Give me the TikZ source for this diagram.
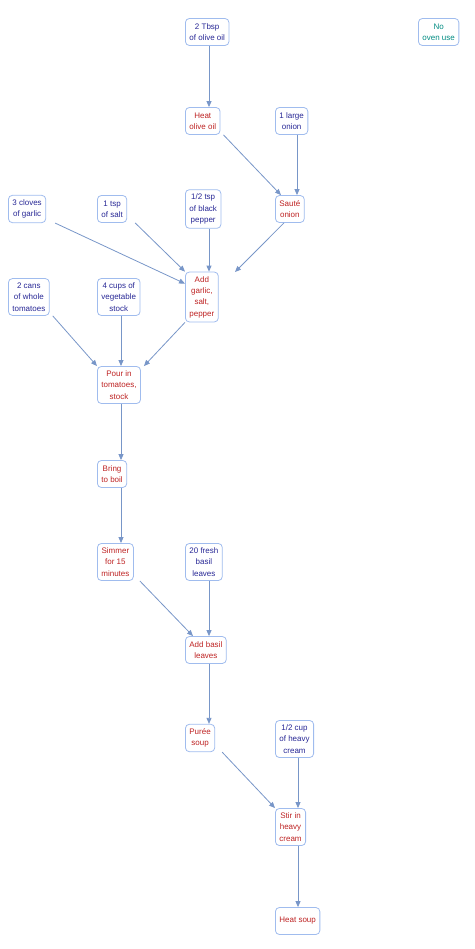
\documentclass[tikz,border=0pt]{standalone}
\usepackage{fontspec}
\setmainfont{Liberation Sans}
\usepackage{tikz}
\usetikzlibrary{arrows.meta}
\definecolor{myblue}{RGB}{40,40,150}
\definecolor{myred}{RGB}{190,35,35}
\definecolor{myteal}{RGB}{0,140,130}
\definecolor{myedge}{RGB}{120,150,200}
\definecolor{mybox}{RGB}{160,188,238}
\tikzset{
  basebox/.style={rectangle, draw=mybox, fill=white, align=center,
    anchor=west, inner xsep=4pt, inner ysep=4.3pt, minimum height=27pt,
    font=\fontsize{8}{11.3}\selectfont, rounded corners=4pt, line width=0.8pt},
  ingr/.style={basebox, text=myblue},
  stepbox/.style={basebox, text=myred},
  notebox/.style={basebox, text=myteal},
  arrow/.style={-{Triangle[length=6pt,width=5pt]}, line width=0.8pt, color=myedge}
}

\begin{document}
\begin{tikzpicture}[x=1pt, y=-1pt]
  \useasboundingbox (0,0) rectangle (474,949);

  % Ingredients and steps
  \node[ingr] (oil) at (185,32) {2 Tbsp\\of olive oil};
  \node[notebox] (nooven) at (418,32) {No\\oven use};
  \node[stepbox] (heat) at (185,121) {Heat\\olive oil};
  \node[ingr] (onion) at (275,121) {1 large\\onion};
  \node[ingr] (garlic) at (8,209) {3 cloves\\of garlic};
  \node[ingr] (salt) at (97,209) {1 tsp\\of salt};
  \node[ingr] (pepper) at (185,209) {1/2 tsp\\of black\\pepper};
  \node[stepbox] (saute) at (275,209) {Sauté\\onion};
  \node[stepbox] (addgsp) at (185,297) {Add\\garlic,\\salt,\\pepper};
  \node[ingr] (cans) at (8,297) {2 cans\\of whole\\tomatoes};
  \node[ingr] (stock) at (97,297) {4 cups of\\vegetable\\stock};
  \node[stepbox] (pour) at (97,385) {Pour in\\tomatoes,\\stock};
  \node[stepbox] (boil) at (97,474) {Bring\\to boil};
  \node[stepbox] (simmer) at (97,562) {Simmer\\for 15\\minutes};
  \node[ingr] (basil) at (185,562) {20 fresh\\basil\\leaves};
  \node[stepbox] (addbasil) at (185,650) {Add basil\\leaves};
  \node[stepbox] (puree) at (185,738) {Purée\\soup};
  \node[ingr] (cream) at (275,739) {1/2 cup\\of heavy\\cream};
  \node[stepbox] (stir) at (275,827) {Stir in\\heavy\\cream};
  \node[stepbox] (heatsoup) at (275,921) {Heat soup};
  \coordinate (sautetip) at (235,272);

  % Connectors
  \draw[arrow] ([xshift=24pt]oil.south west) -- ([xshift=24pt]heat.north west);
  \draw[arrow] ([xshift=3pt]heat.south east) -- ([xshift=6pt]saute.north west);
  \draw[arrow] ([xshift=22pt]onion.south west) -- ([xshift=22pt]saute.north west);
  \draw[arrow] ([xshift=9pt]garlic.south east) -- ([yshift=-12pt]addgsp.north west);
  \draw[arrow] ([xshift=8pt]salt.south east) -- (addgsp.north west);
  \draw[arrow] ([xshift=24pt]pepper.south west) -- ([xshift=24pt]addgsp.north west);
  \draw[arrow] ([xshift=9pt]saute.south west) -- (sautetip);
  \draw[arrow] ([xshift=3pt]cans.south east) -- (pour.north west);
  \draw[arrow] ([xshift=24pt]stock.south west) -- ([xshift=24pt]pour.north west);
  \draw[arrow] (addgsp.south west) -- ([xshift=3pt]pour.north east);
  \draw[arrow] ([xshift=24pt]pour.south west) -- ([xshift=24pt]boil.north west);
  \draw[arrow] ([xshift=24pt]boil.south west) -- ([xshift=24pt]simmer.north west);
  \draw[arrow] ([xshift=6pt]simmer.south east) -- ([xshift=8pt]addbasil.north west);
  \draw[arrow] ([xshift=24pt]basil.south west) -- ([xshift=24pt]addbasil.north west);
  \draw[arrow] ([xshift=24pt]addbasil.south west) -- ([xshift=24pt]puree.north west);
  \draw[arrow] ([xshift=7pt]puree.south east) -- (stir.north west);
  \draw[arrow] ([xshift=23pt]cream.south west) -- ([xshift=23pt]stir.north west);
  \draw[arrow] ([xshift=23pt]stir.south west) -- ([xshift=23pt]heatsoup.north west);
\end{tikzpicture}
\end{document}
